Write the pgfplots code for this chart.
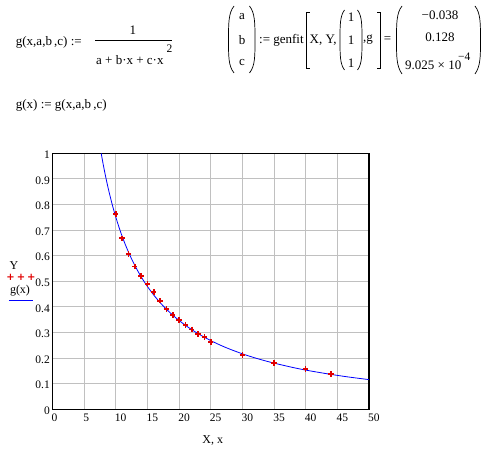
\documentclass[border=0pt]{standalone}
\usepackage{fontspec}
\setmainfont{Liberation Serif}
\newfontfamily\dejavu{DejaVu Sans}
\usepackage{pgfplots}
\pgfplotsset{compat=1.18}
\definecolor{mcred}{RGB}{225,0,0}
\definecolor{mcblue}{RGB}{0,0,255}
\definecolor{mcgrid}{RGB}{192,192,192}
\newcommand{\fs}{\fontsize{13}{15}\selectfont}
\begin{document}
\begin{tikzpicture}
\begin{scope}[x=1pt,y=1pt,shift={(-52.5pt,-43.7pt)}]
\path (0,0) rectangle (496,453);
% ---- formulas ----
\node[anchor=west,inner sep=0pt,font=\fs] at (15.7,411) {g(x,a,b\,,c) :=};
\node[inner sep=0pt,font=\fs] at (133,422.3) {1};
\draw[line width=0.8pt] (95,412.3) -- (171.7,412.3);
\node[anchor=west,inner sep=0pt,font=\fs] at (96,393) {a + b·x + c·x};
\node[inner sep=0pt,font=\fontsize{11.5}{13}\selectfont] at (169.5,404) {2};
\node[anchor=west,inner sep=0pt,font=\fs] at (15.7,348) {g(x) := g(x,a,b\,,c)};
% matrix (a b c)
\draw[line width=0.7pt] (234,447) .. controls (228.5,440) and (228.5,430) .. (228.5,413) .. controls (228.5,396) and (228.5,387) .. (234,380);
\draw[line width=0.7pt] (249.5,447) .. controls (255,440) and (255,430) .. (255,413) .. controls (255,396) and (255,387) .. (249.5,380);
\node[inner sep=0pt,font=\fs] at (242,436) {a};
\node[inner sep=0pt,font=\fs] at (242,413) {b};
\node[inner sep=0pt,font=\fs] at (242,390) {c};
\node[anchor=west,inner sep=0pt,font=\fs] at (259,413) {:= genfit};
\draw[line width=0.7pt] (309.7,441) -- (306.7,441) -- (306.7,385) -- (309.7,385);
\node[anchor=west,inner sep=0pt,font=\fs] at (309.5,413) {X, Y,};
\draw[line width=0.7pt] (344.5,443) .. controls (340,437) and (340,428) .. (340,413) .. controls (340,398) and (340,389) .. (344.5,383);
\draw[line width=0.7pt] (357.5,443) .. controls (362,437) and (362,428) .. (362,413) .. controls (362,398) and (362,389) .. (357.5,383);
\node[inner sep=0pt,font=\fs] at (351,436) {1};
\node[inner sep=0pt,font=\fs] at (351,413) {1};
\node[inner sep=0pt,font=\fs] at (351,390) {1};
\node[anchor=west,inner sep=0pt,font=\fs] at (363,413) {,g};
\draw[line width=0.7pt] (377,441) -- (380,441) -- (380,385) -- (377,385);
\node[inner sep=0pt,font=\fs] at (387.5,413) {=};
\draw[line width=0.7pt] (402,447) .. controls (396.5,440) and (396.5,430) .. (396.5,413) .. controls (396.5,396) and (396.5,387) .. (402,379);
\draw[line width=0.7pt] (475,447) .. controls (480.5,440) and (480.5,430) .. (480.5,413) .. controls (480.5,396) and (480.5,387) .. (475,379);
\node[inner sep=0pt,font=\fs] at (440,438) {−0.038};
\node[inner sep=0pt,font=\fs] at (440,416) {0.128};
\node[anchor=west,inner sep=0pt,font=\fs] at (405,388) {9.025 × 10};
\node[anchor=west,inner sep=0pt,font=\fontsize{11.5}{13}\selectfont] at (458,396) {−4};
% ---- legend ----
\node[inner sep=0pt,font=\fontsize{12}{14}\selectfont] at (14,187) {Y};
\node[inner sep=0pt,text=mcred,font=\dejavu\bfseries\fontsize{10}{11}\selectfont] at (21,176) {+\hspace{2pt}+\hspace{2pt}+};
\node[inner sep=0pt,font=\fontsize{12}{14}\selectfont] at (20,162.3) {g(x)};
\draw[mcblue,line width=1pt] (9,152) -- (33,152);
\end{scope}
% ---- plot ----
\begin{axis}[
  at={(0pt,0pt)}, anchor=south west, scale only axis,
  width=316.5pt, height=256pt,
  xmin=0, xmax=50, ymin=0, ymax=1,
  xtick={0,5,10,15,20,25,30,35,40,45,50},
  ytick={0,0.1,0.2,0.3,0.4,0.5,0.6,0.7,0.8,0.9,1},
  yticklabels={0,0.1,0.2,0.3,0.4,0.5,0.6,0.7,0.8,0.9,1},
  xticklabels={0,5,10,15,20,25,30,35,40,45,50},
  major tick length=0pt,
  grid=major,
  major grid style={mcgrid, line width=0.9pt},
  axis line style={black, line width=1.4pt},
  tick label style={font=\fontsize{11.5}{13}\selectfont},
  /pgf/number format/assume math mode=true,
  xticklabel style={anchor=north west, inner sep=0pt, xshift=-1pt, yshift=-4.5pt},
  yticklabel style={anchor=east, inner sep=0pt, xshift=-2.5pt, yshift=-1.5pt},
  xlabel={X, x},
  xlabel style={at={(axis description cs:0.5,0)}, anchor=center, yshift=-31pt, xshift=2pt, font=\fontsize{12}{14}\selectfont},
]
\addplot[only marks, mark=+, mark size=2.7pt, mcred, line width=1.6pt] coordinates {
(10,0.763) (11,0.668) (12,0.606) (13,0.558) (14,0.520) (15,0.489)
(16,0.458) (17,0.424) (18,0.392) (19,0.368) (20,0.349) (21,0.329)
(22,0.312) (23,0.294) (24,0.282) (25,0.263) (30,0.212) (35,0.181)
(40,0.157) (44,0.138)
};
\addplot[mcblue, line width=0.8pt, smooth] coordinates {
(7.692,1.000) (8,0.9581) (8.25,0.9264) (8.5,0.8967) (8.75,0.8687)
(9,0.8424) (9.25,0.8175) (9.5,0.7940) (9.75,0.7717) (10,0.7506)
(10.5,0.7115) (11,0.6760) (11.5,0.6438) (12,0.6143) (12.5,0.5872)
(13,0.5623) (13.5,0.5392) (14,0.5179) (14.5,0.4981) (15,0.4796)
(16,0.4462) (17,0.4169) (17.5,0.4035) (18,0.3909) (19,0.3677)
(20,0.3469) (21,0.3281) (22,0.3111) (23,0.2956) (24,0.2814)
(25,0.2684) (26,0.2564) (27,0.2453) (28,0.2351) (30,0.2167)
(32,0.2007) (34,0.1867) (35,0.1803) (38,0.1632) (40,0.1532)
(41,0.1487) (44,0.1362) (45,0.1325) (47,0.1254) (50,0.1160)
};
\end{axis}
\end{tikzpicture}
\end{document}
